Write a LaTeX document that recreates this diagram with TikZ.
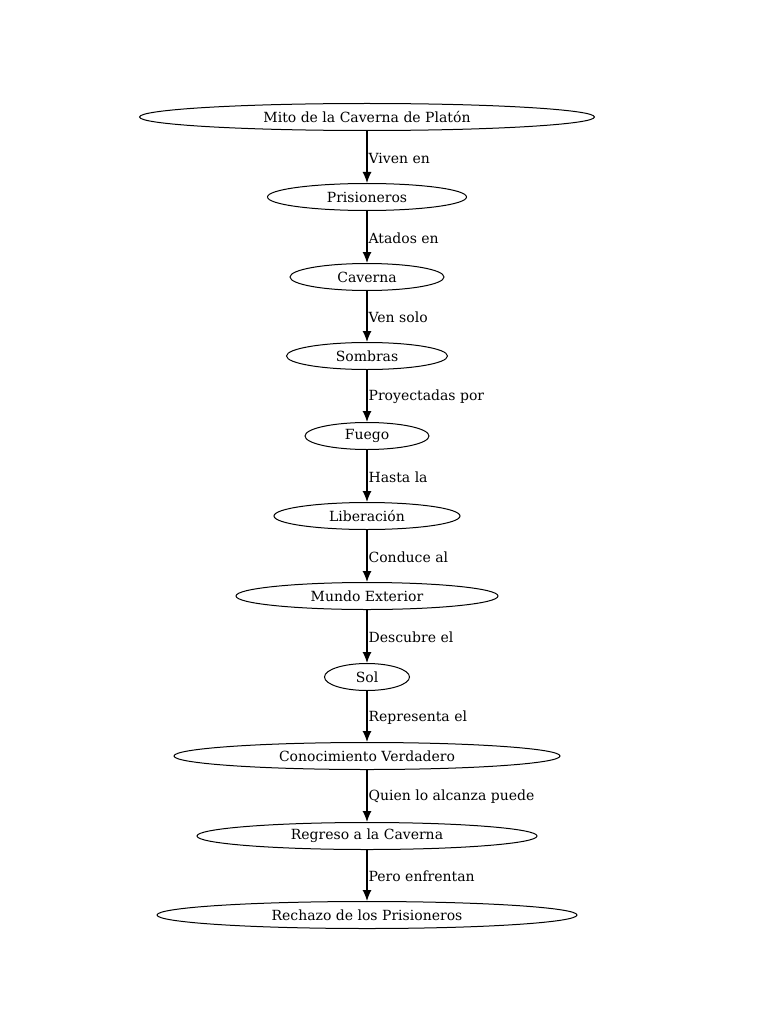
\documentclass[tikz,border=0pt]{standalone}
\usepackage{fontspec}
\setmainfont{DejaVu Serif}
\usetikzlibrary{arrows.meta,shapes.geometric}
\begin{document}
\begin{tikzpicture}[x=1pt,y=-1pt,
  el/.style={draw,ellipse,line width=1pt,inner sep=0pt,minimum height=27pt,font=\fontsize{14}{16}\selectfont},
  lbl/.style={anchor=west,font=\fontsize{14}{16}\selectfont,inner sep=0pt},
  ar/.style={-{Latex[length=11pt,width=9pt]},line width=1.2pt}]
\useasboundingbox (0,0) rectangle (768,1024);
\def\cx{367}
\node[el,minimum width=455pt] (n1) at (\cx,117) {Mito de la Caverna de Platón};
\node[el,minimum width=199pt] (n2) at (\cx,197) {Prisioneros};
\node[el,minimum width=154pt] (n3) at (\cx,277) {Caverna};
\node[el,minimum width=161pt] (n4) at (\cx,356) {Sombras};
\node[el,minimum width=124pt] (n5) at (\cx,436) {Fuego};
\node[el,minimum width=186pt] (n6) at (\cx,516) {Liberación};
\node[el,minimum width=262pt] (n7) at (\cx,596) {Mundo Exterior};
\node[el,minimum width=85pt] (n8) at (\cx,677) {Sol};
\node[el,minimum width=386pt] (n9) at (\cx,756) {Conocimiento Verdadero};
\node[el,minimum width=340pt] (n10) at (\cx,836) {Regreso a la Caverna};
\node[el,minimum width=420pt] (n11) at (\cx,915) {Rechazo de los Prisioneros};
\foreach \a/\b/\t in {n1/n2/Viven en,n2/n3/Atados en,n3/n4/Ven solo,n4/n5/Proyectadas por,n5/n6/Hasta la,n6/n7/Conduce al,n7/n8/Descubre el,n8/n9/Representa el,n9/n10/Quien lo alcanza puede,n10/n11/Pero enfrentan}{
  \draw[ar] (\a.south) -- node[lbl,xshift=1pt,yshift=-1pt] {\t} (\b.north);
}
\end{tikzpicture}
\end{document}
